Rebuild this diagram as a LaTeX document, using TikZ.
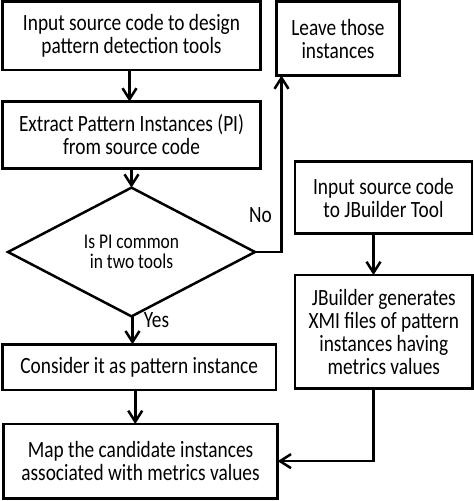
\documentclass[tikz,border=0pt]{standalone}
\usepackage{fontspec}
\setmainfont{Carlito}[FakeStretch=0.83]
\usetikzlibrary{arrows.meta,shapes.geometric}
\begin{document}
\begin{tikzpicture}[x=1pt,y=-1pt,
  lw/.style={line width=2.5pt},
  procbox/.style={draw,lw,rectangle,inner sep=0pt,outer sep=0pt,align=center,
     font=\fontsize{23.3}{23}\selectfont},
  decbox/.style={draw,lw,diamond,inner sep=0pt,outer sep=0pt,align=center,
     font=\fontsize{21}{20}\selectfont},
  lbl/.style={font=\fontsize{23.3}{23}\selectfont,inner sep=0pt},
  flow/.style={lw,-{Straight Barb[length=11pt,width=14pt]}}]
\useasboundingbox (0,0) rectangle (474,501);
\node[procbox,minimum width=258pt,minimum height=68.5pt] (b1) at (131.5,35.75)
  {Input source code to design\\pattern detection tools};
\node[procbox,minimum width=258pt,minimum height=67pt] (b2) at (131.5,135)
  {Extract Pattern Instances (PI)\\from source code};
\node[decbox,minimum width=247pt,minimum height=110pt] (dia) at (131.5,252)
  {Is PI common\\in two tools};
\node[procbox,minimum width=273.5pt,minimum height=45.7pt] (cons) at (139.25,367.15)
  {Consider it as pattern instance};
\node[procbox,minimum width=274.4pt,minimum height=74.3pt] (map) at (140.5,461.15)
  {Map the candidate instances\\associated with metrics values};
\node[procbox,minimum width=123pt,minimum height=74pt] (leave) at (338,38.5)
  {Leave those\\instances};
\node[procbox,minimum width=177pt,minimum height=71.6pt] (jbin) at (383.5,197.5)
  {Input source code\\to JBuilder Tool};
\node[procbox,minimum width=177.7pt,minimum height=113.3pt] (jbgen) at (383.8,331.7)
  {JBuilder generates\\XMI files of pattern\\instances having\\metrics values};
\node[lbl] (no) at (260.5,215.5) {No};
\node[lbl] (yes) at (156.5,320.5) {Yes};
\draw[flow] ([xshift=-2pt]b1.south) -- ([xshift=-2pt]b1.south |- b2.north);
\draw[flow] (b2.south) -- (dia.north);
\draw[flow] ([xshift=1pt]dia.south) -- ([xshift=1pt]dia.south |- cons.north);
\draw[flow] ([xshift=-4pt]cons.south) -- ([xshift=-4pt]cons.south |- map.north);
\draw[flow] (dia.east) -| ([xshift=5pt]leave.south west);
\draw[flow] ([xshift=-10pt]jbin.south) -- ([xshift=-10pt]jbin.south |- jbgen.north);
\draw[flow] ([xshift=-10.5pt]jbgen.south) |- (map.east);
\end{tikzpicture}
\end{document}
